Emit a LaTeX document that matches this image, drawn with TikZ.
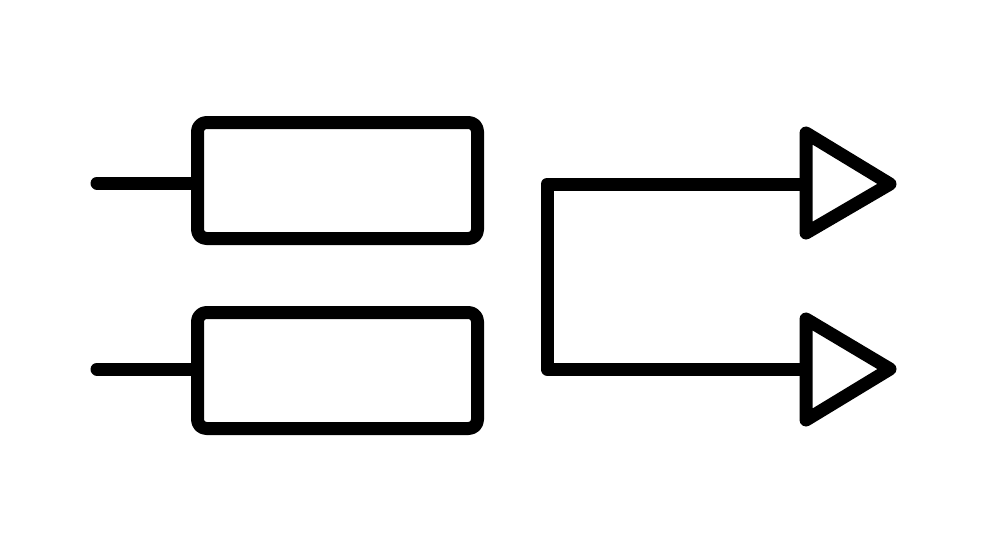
\documentclass[tikz,border=0pt]{standalone}
\begin{document}
\begin{tikzpicture}[x=1pt,y=-1pt,
  ink/.style={line width=13pt, line cap=round, line join=round, draw=black},
  boxnode/.style={ink, rectangle, rounded corners=9pt, minimum width=280pt, minimum height=116pt, inner sep=0pt}]
\useasboundingbox (0,0) rectangle (992,558);
\node[boxnode] (b1) at (337.5,180.5) {};
\node[boxnode] (b2) at (337.5,370.5) {};
\coordinate (s1) at (97,183);
\coordinate (s2) at (97,369);
\draw[ink] (s1) -- (s1 -| b1.west);
\draw[ink] (s2) -- (s2 -| b2.west);
% arrowheads
\coordinate (t1a) at (806,133);
\coordinate (t1b) at (806,233);
\coordinate (t1c) at (890,184);
\coordinate (t2a) at (806,319);
\coordinate (t2b) at (806,420);
\coordinate (t2c) at (890,369);
\coordinate (t1w) at (806,184);
\coordinate (t2w) at (806,369);
\coordinate (corner) at (547,184);
\draw[ink] (t1a) -- (t1c) -- (t1b) -- cycle;
\draw[ink] (t2a) -- (t2c) -- (t2b) -- cycle;
\draw[ink, line cap=butt] (t1w) -- (corner) |- (t2w);
\end{tikzpicture}
\end{document}
